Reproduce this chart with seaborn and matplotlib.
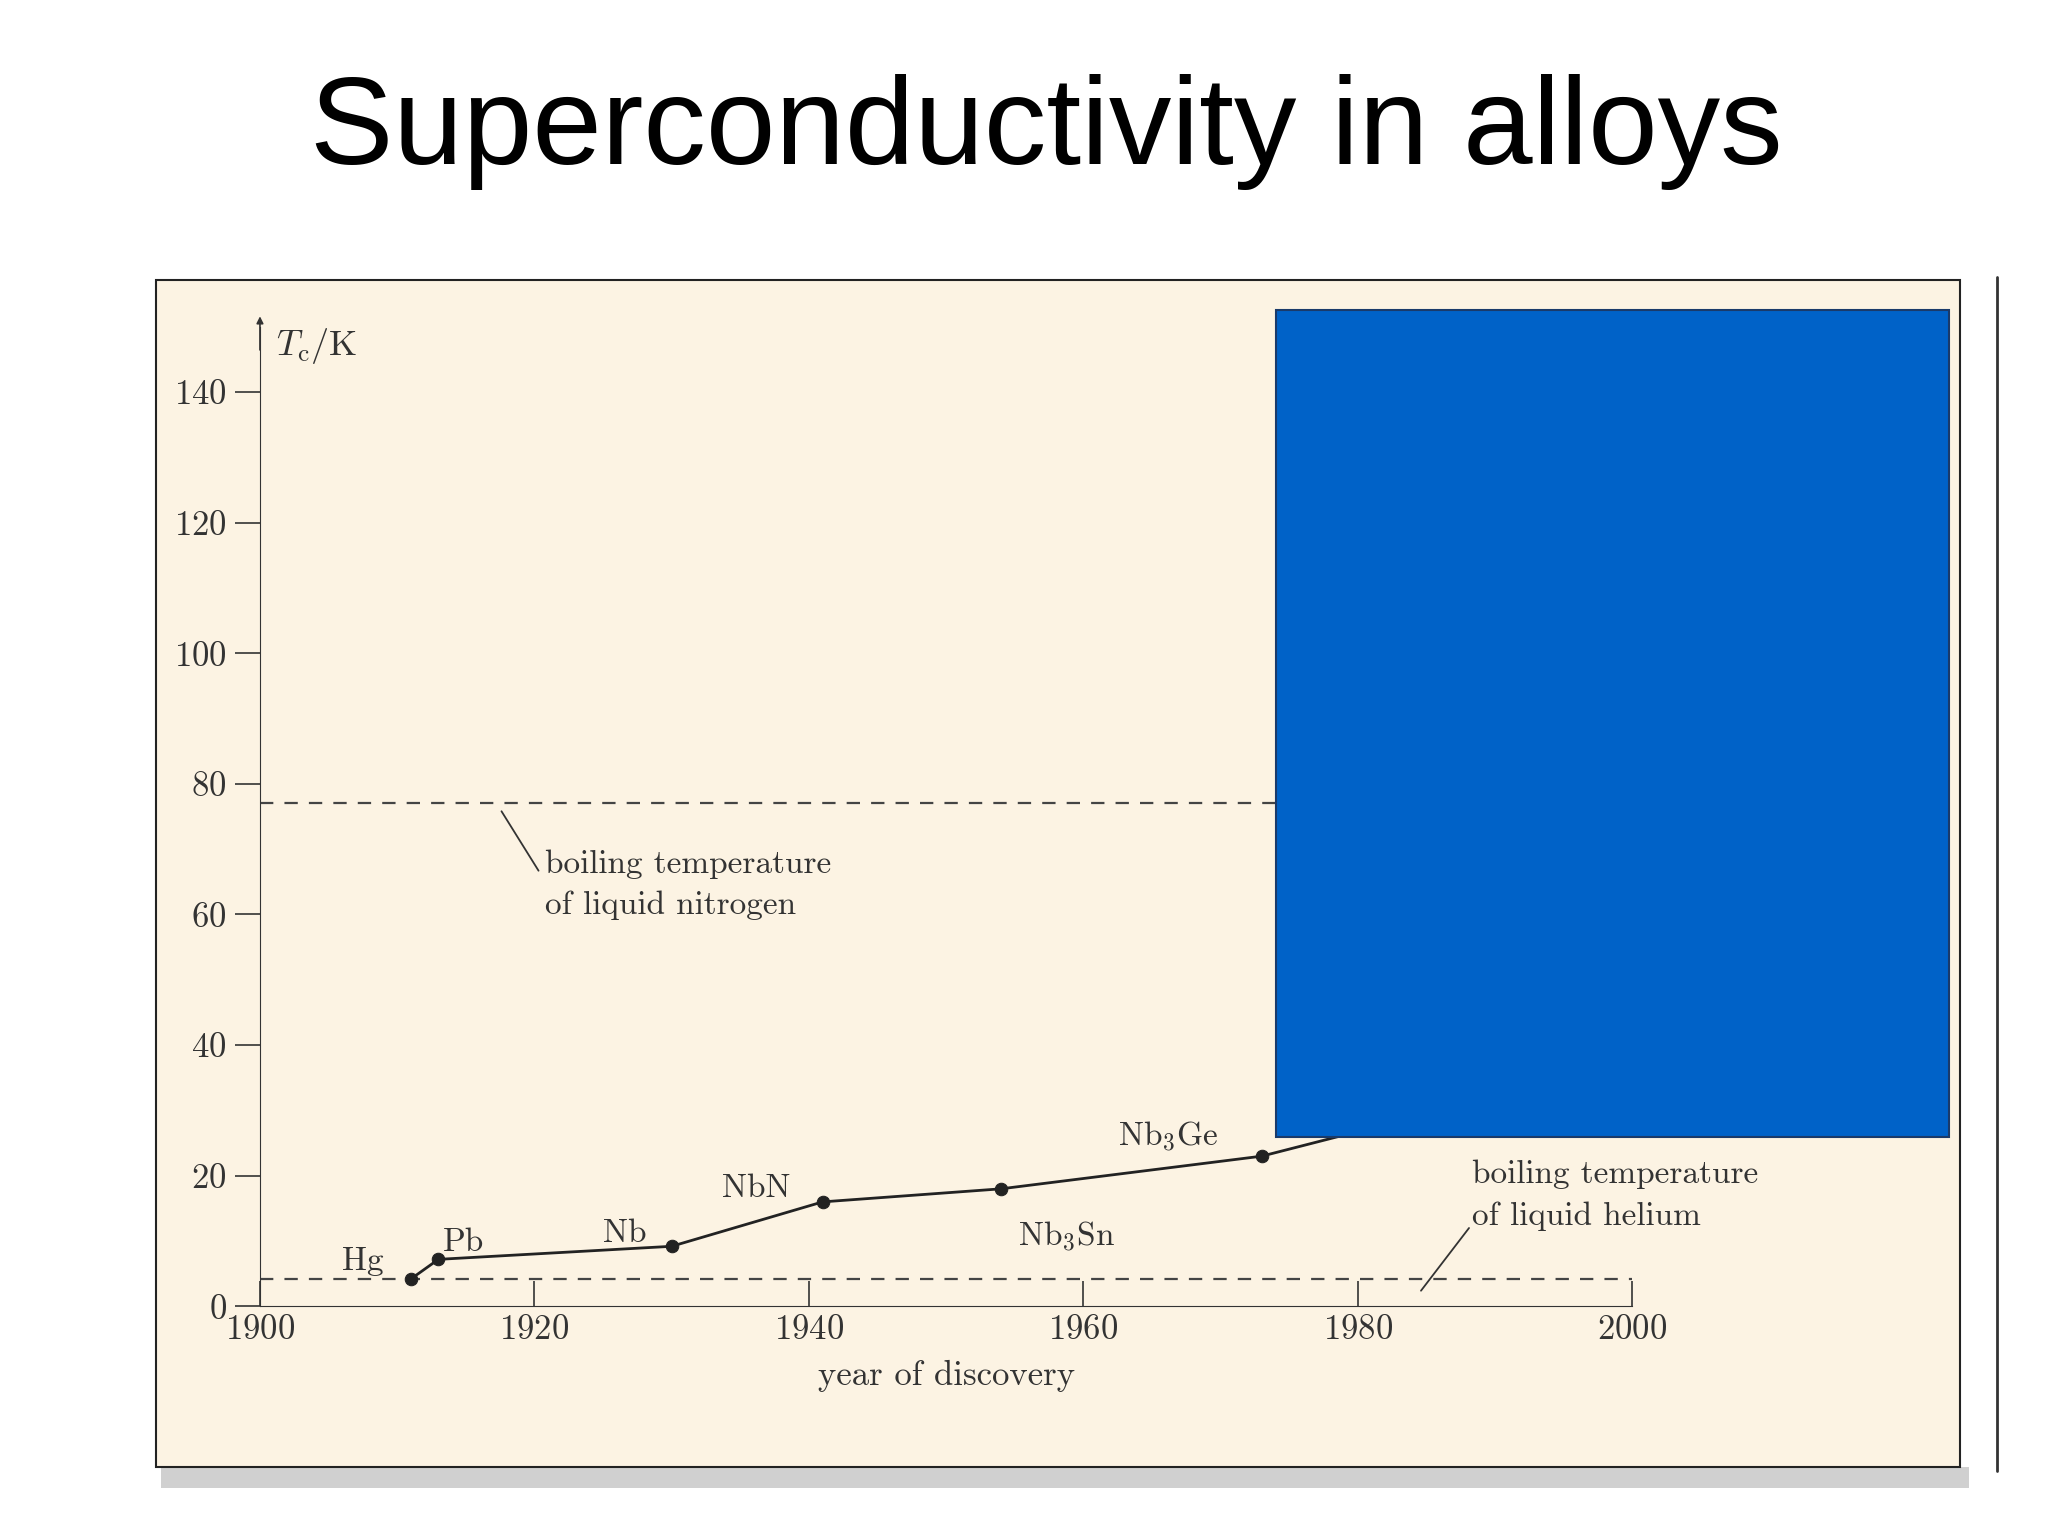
import matplotlib
matplotlib.use("Agg")
import matplotlib.pyplot as plt
import seaborn as sns
from matplotlib.patches import Rectangle

sns.set_style("white")
plt.rcParams['font.family'] = ['cmr10', 'DejaVu Serif']
plt.rcParams['mathtext.fontset'] = 'cm'
plt.rcParams['axes.formatter.use_mathtext'] = True

years = [1911, 1913, 1930, 1941, 1954, 1973, 1986]
tc = [4.2, 7.2, 9.2, 16.0, 18.0, 23.0, 30.0]
names = ["Hg", "Pb", "Nb", "NbN", r"Nb$_3$Sn", r"Nb$_3$Ge", ""]
label_pos = [(1906, 5.5), (1913.3, 8.5), (1925, 9.8), (1933.7, 16.8), (1955.2, 9.5), (1962.5, 24.8), (0, 0)]
n2_temp = 77
he_temp = 4.2
xticks = [1900, 1920, 1940, 1960, 1980, 2000]
yticks = [0, 20, 40, 60, 80, 100, 120, 140]

W, H = 1552, 1164
fig = plt.figure(figsize=(20.48, 15.36), dpi=100)
fig.patch.set_facecolor("white")

def fx(x): return x / W
def fy(y): return 1 - y / H

# shadow and panel
fig.patches.append(Rectangle((fx(122), fy(1128)), fx(1370), (1128-1112)/H, transform=fig.transFigure,
                             facecolor="#d0d0d0", edgecolor="none", zorder=-2))
fig.patches.append(Rectangle((fx(118), fy(1112)), fx(1367), (1112-212)/H, transform=fig.transFigure,
                             facecolor="#fcf3e3", edgecolor="#222222", lw=1.5, zorder=-1))
fig.text(0.511, fy(100), "Superconductivity in alloys", ha="center", va="center",
         fontsize=90, color="black", family=["Liberation Sans", "DejaVu Sans"])

ax = fig.add_axes([fx(197), fy(990), fx(1237-197), (990-247.5)/H])
ax.set_zorder(1)
ax.set_facecolor("none")
ax.set_xlim(1900, 2000)
ax.set_ylim(0, 150)
sns.lineplot(x=years, y=tc, ax=ax, color="#222222", lw=2, marker="o", markersize=9,
             markeredgecolor="#222222", zorder=3)
ax.axhline(n2_temp, color="#444444", ls=(0, (6, 5)), lw=1.6)
ax.axhline(he_temp, color="#444444", ls=(0, (6, 5)), lw=1.6)
for n, (lx, ly) in zip(names, label_pos):
    if n:
        ax.text(lx, ly, n, fontsize=24, color="#333333")
ax.plot([1917.6, 1920.3], [75.8, 66.7], color="#333333", lw=1.3)
ax.text(1920.8, 60, "boiling temperature\nof liquid nitrogen", fontsize=24, color="#333333", linespacing=1.5)
ax.plot([1984.6, 1988.1], [2.4, 12], color="#333333", lw=1.3)
ax.text(1988.3, 12.5, "boiling temperature\nof liquid helium", fontsize=24, color="#333333", linespacing=1.5)

for s in ["top", "right"]:
    ax.spines[s].set_visible(False)
ax.spines["left"].set_color("#333333")
ax.spines["bottom"].set_color("#333333")
ax.set_xticks(xticks)
ax.set_yticks(yticks)
ax.tick_params(direction="in", length=18, width=1.2, labelsize=25, colors="#333333", pad=6, left=True, bottom=True)
ax.tick_params(axis="y", direction="out", length=18)
ax.set_xlabel("year of discovery", fontsize=25, color="#333333", labelpad=10)
ax.annotate("", xy=(1900, 152), xytext=(1900, 146), annotation_clip=False,
            arrowprops=dict(arrowstyle="-|>", color="#333333", lw=1.2))
ax.text(1901.2, 147, r"$T_\mathrm{c}/\mathrm{K}$", fontsize=26, color="#333333", va="center")

# blue box above axes
fig.patches.append(Rectangle((fx(967), fy(862)), fx(1477-967), (862-235)/H, transform=fig.transFigure,
                             facecolor="#0062c8", edgecolor="#1a3a6a", lw=1.5, zorder=10))
fig.lines.append(plt.Line2D([fx(1513), fx(1513)], [fy(210), fy(1115)], transform=fig.transFigure,
                            color="#333333", lw=2, zorder=10))

fig.savefig("out.png", dpi=100)
